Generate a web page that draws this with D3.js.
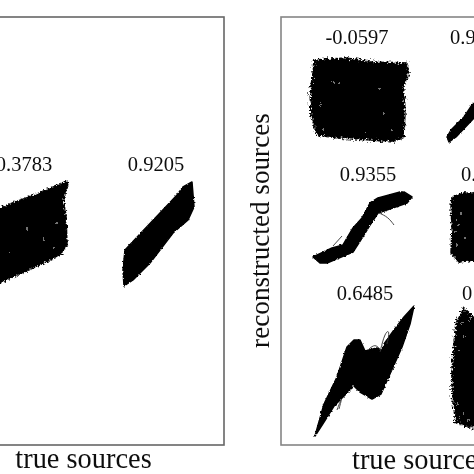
<!DOCTYPE html>
<html>
<head>
<meta charset="utf-8">
<script src="https://cdn.jsdelivr.net/npm/d3@7"></script>
<style>
  html, body { margin: 0; padding: 0; background: #fff; overflow: hidden; }
  text { font-family: "Liberation Serif", serif; fill: #111; }
</style>
</head>
<body>
<div id="chart"></div>
<script>
// scatter outlines, true source (x) against reconstructed source (y)
var labels = ["0.3783", "0.9205", "-0.0597", "0.9", "0.9355", "0.", "0.6485", "0"];

var cloudA = [[4.3,5.4],[2.6,4.7],[1.1,4.0],[-0.9,3.3],[-2.4,2.7],[-4.4,1.9],[-4.4,-5.7],[-2.4,-4.8],[-0.7,-4.0],[0.9,-3.3],[2.6,-2.5],[3.8,-1.8],[4.3,-1.0],[4.2,2.0],[3.9,3.5],[4.4,5.0]];
var cloudB = [[3.6,5.3],[3.8,2.8],[3.2,1.5],[1.7,0.2],[-0.6,-2.8],[-2.3,-4.5],[-3.2,-5.1],[-3.3,-3.5],[-3.1,-1.5],[-1.6,0.1],[0.4,2.2],[2.1,4.0],[2.7,4.8]];
var cloudC = [[-4.3,4.0],[-1.0,4.2],[2.0,3.8],[5.0,3.7],[5.2,2.7],[4.7,1.3],[4.8,-1.3],[4.7,-3.7],[3.7,-4.2],[1.3,-4.0],[-2.0,-3.8],[-4.0,-3.5],[-4.6,-1.7],[-4.7,1.0],[-4.4,2.7]];
var cloudD = [[-3.3,-1.2],[-3.1,-1.7],[-2.4,-1.2],[-0.6,0.7],[1.0,2.5],[1.0,3.5],[-0.8,2.0],[-1.6,0.8],[-2.9,-0.5]];
var cloudE = [[-4.7,-2.7],[-2.8,-1.8],[-1.7,-1.5],[-0.7,0.2],[0.2,1.2],[1.0,2.7],[1.8,3.2],[4.0,3.8],[4.4,3.8],[5.2,3.3],[4.7,2.7],[2.4,1.9],[1.8,1.7],[1.0,0.5],[0.2,-0.8],[-0.7,-2.2],[-3.3,-3.3],[-4.0,-3.3]];
var cloudF = [[-2.8,3.1],[-1.6,3.5],[2.0,3.6],[2.0,-3.4],[-0.6,-3.2],[-2.1,-3.4],[-2.9,-2.5],[-2.8,0.1],[-2.9,2.1]];
var cloudG = [[-5.0,-6.6],[-4.1,-3.4],[-2.8,-0.7],[-1.8,2.3],[-1.1,3.0],[-0.5,3.0],[0,1.9],[1.2,2.2],[1.7,1.9],[1.9,2.6],[2.9,4.0],[3.9,5.3],[4.9,6.4],[4.5,4.6],[3.7,2.3],[2.9,0.5],[1.6,-2.4],[0.7,-2.9],[-0.5,-2.2],[-1.1,-1.6],[-2.0,-2.5],[-3.1,-3.6],[-4.1,-5.2]];
var cloudH = [[-1.6,6.0],[-2.4,4.6],[-2.8,0.5],[-2.8,-2.9],[-2.4,-5.5],[-1.3,-5.9],[-0.6,-6.0],[2,-6],[2,5.3],[-0.6,5.1]];

// stray traces that leave the clouds
var tailE1 = [[1.9,1.7],[2.8,1.3],[3.4,0.5]];
var tailE2 = [[-2.7,-1.6],[-1.8,-0.6]];
var loopG1 = [[-2.8,-4.0],[-2.2,-2.4],[-2.6,-3.9]];
var loopG2 = [[1.5,1.8],[2.0,3.8],[2.5,4.0],[2.2,2.6]];
var loopG3 = [[0.4,2.1],[1.0,2.6],[1.5,2.1]];

// small gaps inside the clouds
var gapsA = [[-1.4,-1.8],[0.3,0.6],[2.0,-0.4],[3.3,1.2],[3.0,-1.3]];
var gapsC = [[-2.3,1.7],[-1.7,1.7],[2.2,1.1],[2.7,-1.3],[-3.7,-0.5],[-3.4,-3.0],[3.5,-3.0],[1.0,-3.3]];
var gapsF = [[-2.4,0.8],[-2.2,0.3],[-2.4,-0.3],[-1.9,1.5],[-1.5,-1.0],[-2.3,-1.7]];
var gapsG = [[-1.4,-2.0],[-1.2,-1.6]];
var gapsH = [[-1.8,4.4],[-1.5,3.2],[-2.1,1.8],[-2.2,-3.6],[-1.6,-4.6],[-2.0,-5.0],[-1.2,-5.2],[-1.0,4.9]];

var svgWidth = 474;
var svgHeight = 474;

var svg = d3.select("#chart")
            .append("svg")
            .attr("width", svgWidth)
            .attr("height", svgHeight)
            .style("display", "block");

// rough edge for the clouds, the traces are too dense to draw one by one
var defs = svg.append("defs");
[["edge1", 2.5], ["edge2", 4.5], ["edge3", 7]].forEach(function(f) {
  var filter = defs.append("filter")
                   .attr("id", f[0])
                   .attr("x", "-20%").attr("y", "-20%")
                   .attr("width", "140%").attr("height", "140%");
  filter.append("feTurbulence")
        .attr("type", "fractalNoise")
        .attr("baseFrequency", 0.45)
        .attr("numOctaves", 2)
        .attr("seed", 4);
  filter.append("feDisplacementMap")
        .attr("in", "SourceGraphic")
        .attr("scale", f[1])
        .attr("xChannelSelector", "R")
        .attr("yChannelSelector", "G");
});
defs.append("filter")
    .attr("id", "soft")
    .append("feGaussianBlur")
    .attr("stdDeviation", 0.35);

var page = svg.append("g").attr("filter", "url(#soft)");

// frames
var frames = [
  { x0: -10, x1: 224, color: "#666" },
  { x0: 281, x1: 490, color: "#858585" }
];
page.selectAll("rect.frame")
   .data(frames)
   .enter().append("rect")
   .attr("class", "frame")
   .attr("x", function(d) { return d.x0; })
   .attr("y", 17)
   .attr("width", function(d) { return d.x1 - d.x0; })
   .attr("height", 428)
   .attr("fill", "none")
   .attr("stroke", function(d) { return d.color; })
   .attr("stroke-width", 1.6);

// one small scatter cell, 10 units wide around its centre
var cells = [
  { points: cloudA, cx: 24,  cy: 235, rough: 2, gaps: gapsA, label: labels[0], lx: 24,  ly: 171 },
  { points: cloudB, cx: 156, cy: 235, rough: 1, label: labels[1], lx: 156, ly: 171 },
  { points: cloudC, cx: 357, cy: 100, rough: 3, gaps: gapsC, label: labels[2], lx: 357, ly: 44 },
  { points: cloudD, cx: 480, cy: 125, rough: 1, label: labels[3], lx: 450, ly: 44,  start: true },
  { points: cloudE, cx: 360, cy: 230, rough: 1, label: labels[4], lx: 368, ly: 181, traces: [tailE1, tailE2] },
  { points: cloudF, cx: 480, cy: 228, rough: 2, gaps: gapsF, label: labels[5], lx: 461, ly: 181, start: true },
  { points: cloudG, cx: 365, cy: 370, rough: 1, gaps: gapsG, label: labels[6], lx: 365, ly: 300, traces: [loopG1, loopG2, loopG3] },
  { points: cloudH, cx: 480, cy: 368, rough: 3, gaps: gapsH, label: labels[7], lx: 462, ly: 300, start: true }
];

cells.forEach(function(cell) {
  var x = d3.scaleLinear().domain([-5, 5]).range([cell.cx - 50, cell.cx + 50]);
  var y = d3.scaleLinear().domain([-5, 5]).range([cell.cy + 50, cell.cy - 50]);
  var line = d3.line()
               .x(function(d) { return x(d[0]); })
               .y(function(d) { return y(d[1]); });
  var outline = line.curve(d3.curveLinearClosed)(cell.points);
  var g = page.append("g").attr("filter", "url(#edge" + cell.rough + ")");

  g.append("path")
   .attr("d", outline)
   .attr("fill", "#060606")
   .attr("stroke", "#060606")
   .attr("stroke-width", 1.5)
   .attr("stroke-linejoin", "round");

  if (cell.rough > 1) {
    // speckle just inside the edge
    g.append("path")
     .attr("d", outline)
     .attr("fill", "none")
     .attr("stroke", "#fff")
     .attr("stroke-width", cell.rough == 3 ? 1.4 : 1)
     .attr("stroke-dasharray", cell.rough == 3 ? "1 2.5 1.5 4 1 2" : "1 5 1 8");
  }

  g.selectAll("circle.gap")
   .data(cell.gaps || [])
   .enter().append("circle")
   .attr("class", "gap")
   .attr("cx", function(d) { return x(d[0]); })
   .attr("cy", function(d) { return y(d[1]); })
   .attr("r", 0.8)
   .attr("fill", "#fff");

  line.curve(d3.curveBasis);
  page.selectAll("path.trace" + cell.cy + cell.cx)
   .data(cell.traces || [])
   .enter().append("path")
   .attr("class", "trace" + cell.cy + cell.cx)
   .attr("d", line)
   .attr("fill", "none")
   .attr("stroke", "#333")
   .attr("stroke-width", 0.9);

  page.append("text")
     .attr("x", cell.lx)
     .attr("y", cell.ly)
     .attr("text-anchor", cell.start ? "start" : "middle")
     .attr("font-size", 20.5)
     .text(cell.label);
});

// axis titles
page.append("text")
   .attr("x", 83.5)
   .attr("y", 468)
   .attr("text-anchor", "middle")
   .attr("font-size", 28.4)
   .text("true sources");

page.append("text")
   .attr("x", 352)
   .attr("y", 468.5)
   .attr("font-size", 28.4)
   .text("true sources");

page.append("text")
   .attr("transform", "translate(269,230.5) rotate(-90)")
   .attr("text-anchor", "middle")
   .attr("font-size", 27.2)
   .text("reconstructed sources");
</script>
</body>
</html>
